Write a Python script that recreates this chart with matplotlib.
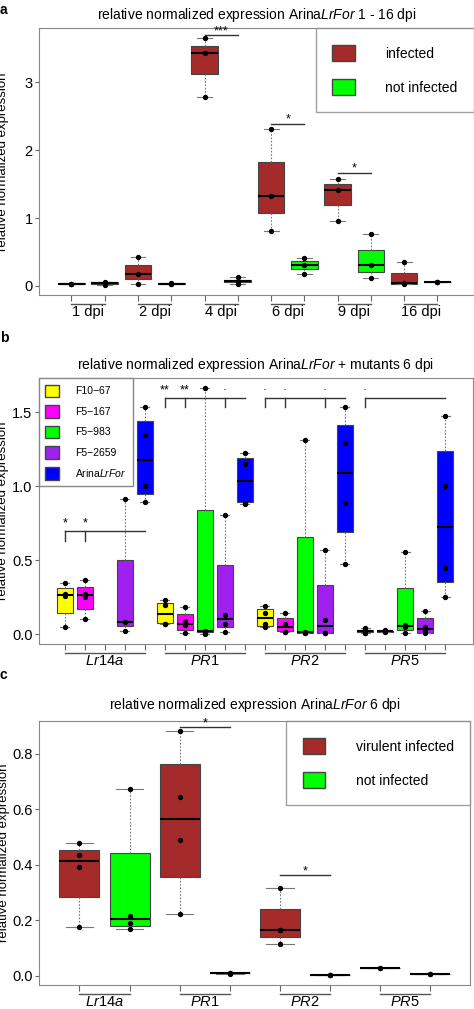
import matplotlib
matplotlib.use("Agg")
import matplotlib.pyplot as plt
from matplotlib.patches import Patch
from matplotlib.transforms import blended_transform_factory as btf

plt.rcParams['font.family'] = ['Liberation Sans', 'DejaVu Sans']
plt.rcParams['mathtext.fontset'] = 'custom'
plt.rcParams['mathtext.it'] = 'Liberation Sans:italic'
plt.rcParams['mathtext.rm'] = 'Liberation Sans'

# ---------- Panel a data: (lo, q1, med, q3, hi) ----------
a_groups = ["1 dpi", "2 dpi", "4 dpi", "6 dpi", "9 dpi", "16 dpi"]
a_inf = [(0.03, 0.03, 0.03, 0.035, 0.035), (0.03, 0.10, 0.18, 0.30, 0.42), (2.79, 3.12, 3.44, 3.54, 3.65),
         (0.81, 1.07, 1.32, 1.82, 2.31), (0.96, 1.19, 1.42, 1.50, 1.57), (0.03, 0.03, 0.04, 0.19, 0.35)]
a_not = [(0.01, 0.02, 0.04, 0.05, 0.06), (0.02, 0.025, 0.03, 0.035, 0.04), (0.02, 0.05, 0.07, 0.09, 0.13),
         (0.18, 0.25, 0.31, 0.36, 0.41), (0.12, 0.21, 0.31, 0.53, 0.76), (0.05, 0.05, 0.05, 0.055, 0.055)]
a_inf_pts = [[0.03, 0.03, 0.03], [0.42, 0.18, 0.03], [3.65, 3.44, 2.79], [2.31, 1.32, 0.81], [1.57, 1.42, 0.96], [0.35, 0.04, 0.03]]
a_not_pts = [[0.01, 0.06, 0.04], [0.02, 0.04, 0.03], [0.13, 0.07, 0.02], [0.41, 0.31, 0.18], [0.76, 0.31, 0.12], [0.05, 0.05, 0.05]]
a_sig = [(2, 3.70, "***"), (3, 2.39, "*"), (4, 1.67, "*")]

# ---------- Panel b data ----------
b_groups = ["Lr14a", "PR1", "PR2", "PR5"]
b_lines = ["F10\u221267", "F5\u2212167", "F5\u2212983", "F5\u22122659", r"Arina$\mathit{LrFor}$"]
b_colors = ["#ffff00", "#ff00ff", "#00ff00", "#a020f0", "#0000ff"]
b_stats = [
    [(0.045, 0.146, 0.265, 0.31, 0.344), (0.10, 0.173, 0.265, 0.32, 0.368), None,
     (0.018, 0.052, 0.079, 0.50, 0.917), (0.894, 0.946, 1.175, 1.443, 1.535)],
    [(0.067, 0.072, 0.139, 0.213, 0.229), (0.007, 0.025, 0.07, 0.137, 0.182), (0.002, 0.012, 0.022, 0.843, 1.665),
     (0.016, 0.045, 0.10, 0.47, 0.809), (0.883, 0.894, 1.034, 1.189, 1.222)],
    [(0.045, 0.056, 0.108, 0.169, 0.189), (0.013, 0.018, 0.045, 0.106, 0.146), (0.007, 0.011, 0.013, 0.66, 1.31),
     (0.007, 0.011, 0.056, 0.333, 0.571), (0.474, 0.688, 1.092, 1.413, 1.535)],
    [(0.007, 0.015, 0.022, 0.03, 0.04), (0.015, 0.017, 0.02, 0.024, 0.025), (0.011, 0.03, 0.056, 0.31, 0.553),
     (0.005, 0.011, 0.034, 0.106, 0.157), (0.25, 0.35, 0.726, 1.238, 1.476)],
]
b_pts = [
    [[0.344, 0.27, 0.26, 0.045], [0.368, 0.27, 0.25, 0.10], [], [0.917, 0.079, 0.018], [1.535, 1.35, 1.0, 0.894]],
    [[0.229, 0.2, 0.07, 0.067], [0.182, 0.09, 0.06, 0.007], [1.665, 0.02, 0.01, 0.002], [0.809, 0.13, 0.07, 0.016], [1.222, 1.15, 0.89, 0.883]],
    [[0.189, 0.145, 0.07, 0.045], [0.146, 0.07, 0.013, 0.013], [1.31, 0.013, 0.01, 0.007], [0.571, 0.095, 0.01, 0.007], [1.535, 1.29, 0.89, 0.474]],
    [[0.04, 0.02, 0.01, 0.007], [0.025, 0.02, 0.02, 0.015], [0.553, 0.06, 0.05, 0.011], [0.157, 0.05, 0.02, 0.005], [1.476, 1.0, 0.45, 0.25]],
]
# brackets: (group, bar y, drop y, [(box index, label)])
b_sig = [(0, 0.697, 0.63, [(0, "*"), (1, "*")]),
         (1, 1.60, 1.537, [(0, "**"), (1, "**"), (3, "\u00b7")]),
         (2, 1.60, 1.537, [(0, "\u00b7"), (1, "\u00b7"), (3, "\u00b7")]),
         (3, 1.60, 1.537, [(0, "\u00b7")])]

# ---------- Panel c data ----------
c_groups = ["Lr14a", "PR1", "PR2", "PR5"]
c_inf = [(0.177, 0.285, 0.413, 0.455, 0.478), (0.224, 0.356, 0.565, 0.763, 0.883),
         (0.114, 0.14, 0.165, 0.241, 0.317), (0.03, 0.03, 0.03, 0.03, 0.03)]
c_not = [(0.169, 0.18, 0.204, 0.444, 0.673), (0.007, 0.009, 0.01, 0.012, 0.012),
         (0.003, 0.003, 0.004, 0.004, 0.005), (0.006, 0.006, 0.006, 0.007, 0.007)]
c_inf_pts = [[0.478, 0.434, 0.393, 0.177], [0.883, 0.646, 0.488, 0.224], [0.317, 0.165, 0.165, 0.114], [0.03, 0.03]]
c_not_pts = [[0.673, 0.217, 0.19, 0.169], [0.012, 0.01, 0.008], [0.004, 0.003, 0.003], [0.007, 0.006]]
c_sig = [(1, 0.896, "*"), (2, 0.363, "*")]

RED = "#a52a2a"
GREEN = "#00ff00"


def draw_box(ax, pos, st, color, pts, width=0.8, capw=0.45):
    if st is None:
        return
    lo, q1, med, q3, hi = st
    ax.bxp([dict(whislo=lo, q1=q1, med=med, q3=q3, whishi=hi, fliers=[])], positions=[pos],
           widths=width, patch_artist=True, showfliers=False, capwidths=capw,
           boxprops=dict(facecolor=color, edgecolor="#444444", linewidth=0.8),
           medianprops=dict(color="black", linewidth=1.5),
           whiskerprops=dict(color="#777777", linestyle=(0, (1.5, 1.5)), linewidth=0.8),
           capprops=dict(color="#777777", linewidth=0.8))
    if pts:
        ax.scatter([pos] * len(pts), pts, s=8, color="black", zorder=5)


def frame(ax, positions, groups, gpos, ylabel):
    for s in ax.spines.values():
        s.set_color("#888888")
    ax.set_xticks(positions)
    ax.set_xticklabels([])
    ax.tick_params(axis="x", length=4, color="#666666")
    ax.tick_params(axis="y", labelsize=10.5, color="#666666", length=3, pad=1.5)
    ax.set_ylabel(ylabel, fontsize=9.5)
    ax.yaxis.set_label_coords(-0.068, 0.5)
    tr = btf(ax.transData, ax.transAxes)
    for g, (x0, x1) in zip(groups, gpos):
        ax.plot([x0, x1], [-0.036, -0.036], transform=tr, color="#555555", lw=1, clip_on=False)
        lab = g if "dpi" in g else r"$\mathit{%s}$" % g
        ax.text((x0 + x1) / 2, -0.04, lab, transform=tr, ha="center", va="top", fontsize=10.5)


fig = plt.figure(figsize=(4.74, 10.09), dpi=100)
ylab = "relative normalized expression"

# ---- a ----
axa = fig.add_axes([0.082, 0.708, 0.918, 0.264])
pos = []
for i in range(6):
    p1, p2 = 1 + 2 * i, 2 + 2 * i
    draw_box(axa, p1, a_inf[i], RED, a_inf_pts[i])
    draw_box(axa, p2, a_not[i], GREEN, a_not_pts[i])
    pos += [p1, p2]
for gi, y, lab in a_sig:
    axa.plot([1 + 2 * gi, 2 + 2 * gi], [y, y], color="#333333", lw=1)
    axa.text(1.5 + 2 * gi, y - 0.03, lab, ha="center", va="bottom", fontsize=9)
axa.set_xlim(0.02, 13.1)
axa.set_ylim(-0.13, 3.8)
axa.set_yticks([0, 1, 2, 3])
frame(axa, pos, a_groups, [(1 + 2 * i, 2 + 2 * i) for i in range(6)], ylab)
axa.set_title(r"relative normalized expression Arina$\mathit{LrFor}$ 1 - 16 dpi", fontsize=10, pad=7)
axa.legend(handles=[Patch(facecolor=RED, edgecolor="#444444", label="infected"),
                    Patch(facecolor=GREEN, edgecolor="#444444", label="not infected")],
           loc="upper right", bbox_to_anchor=(1.0, 1.0), borderaxespad=0, fancybox=False,
           edgecolor="#888888", fontsize=10, handlelength=1.6, handleheight=1.4,
           handletextpad=2.2, labelspacing=1.3, borderpad=1.2)

# ---- b ----
axb = fig.add_axes([0.082, 0.362, 0.916, 0.263])
pos = []
for g in range(4):
    for k in range(5):
        p = 1 + 5 * g + k
        draw_box(axb, p, b_stats[g][k], b_colors[k], b_pts[g][k], capw=0.45)
        pos.append(p)
for g, ybar, ydrop, labs in b_sig:
    x0 = 1 + 5 * g
    axb.plot([x0, x0 + 4], [ybar, ybar], color="#333333", lw=1)
    for k, lab in labs:
        axb.plot([x0 + k, x0 + k], [ydrop, ybar], color="#333333", lw=1)
        axb.text(x0 + k, ybar + 0.01, lab, ha="center", va="bottom", fontsize=9)
axb.set_xlim(-0.3, 21.4)
axb.set_ylim(-0.065, 1.73)
axb.set_yticks([0.0, 0.5, 1.0, 1.5])
axb.set_yticklabels(["0.0", "0.5", "1.0", "1.5"])
frame(axb, pos, b_groups, [(1 + 5 * g, 5 + 5 * g) for g in range(4)], ylab)
axb.set_title(r"relative normalized expression Arina$\mathit{LrFor}$ + mutants 6 dpi", fontsize=10, pad=7)
axb.legend(handles=[Patch(facecolor=c, edgecolor="#444444", label=l) for c, l in zip(b_colors, b_lines)],
           loc="upper left", borderaxespad=0, fancybox=False, edgecolor="#888888", fontsize=7.5,
           handlelength=1.3, handleheight=1.5, handletextpad=1.6, labelspacing=0.75, borderpad=0.6,
           framealpha=1)

# ---- c ----
axc = fig.add_axes([0.082, 0.024, 0.91, 0.261])
pos = []
for i in range(4):
    p1, p2 = 1 + 2 * i, 2 + 2 * i
    draw_box(axc, p1, c_inf[i], RED, c_inf_pts[i], capw=0.55)
    draw_box(axc, p2, c_not[i], GREEN, c_not_pts[i], capw=0.55)
    pos += [p1, p2]
for gi, y, lab in c_sig:
    axc.plot([1 + 2 * gi, 2 + 2 * gi], [y, y], color="#333333", lw=1)
    axc.text(1.5 + 2 * gi, y - 0.008, lab, ha="center", va="bottom", fontsize=9)
axc.set_xlim(0.19, 8.8)
axc.set_ylim(-0.032, 0.917)
axc.set_yticks([0.0, 0.2, 0.4, 0.6, 0.8])
frame(axc, pos, c_groups, [(1 + 2 * i, 2 + 2 * i) for i in range(4)], ylab)
axc.set_title(r"relative normalized expression Arina$\mathit{LrFor}$ 6 dpi", fontsize=10, pad=9)
axc.legend(handles=[Patch(facecolor=RED, edgecolor="#444444", label="virulent infected"),
                    Patch(facecolor=GREEN, edgecolor="#444444", label="not infected")],
           loc="upper right", borderaxespad=0, fancybox=False, edgecolor="#888888", fontsize=10,
           handlelength=1.6, handleheight=1.4, handletextpad=2.2, labelspacing=1.3, borderpad=1.2)

for lab, y in [("a", 0.997), ("b", 0.672), ("c", 0.338)]:
    fig.text(0.0, y, lab, fontsize=10, fontweight="bold", va="top", ha="left")

fig.savefig("out.png", dpi=100)
